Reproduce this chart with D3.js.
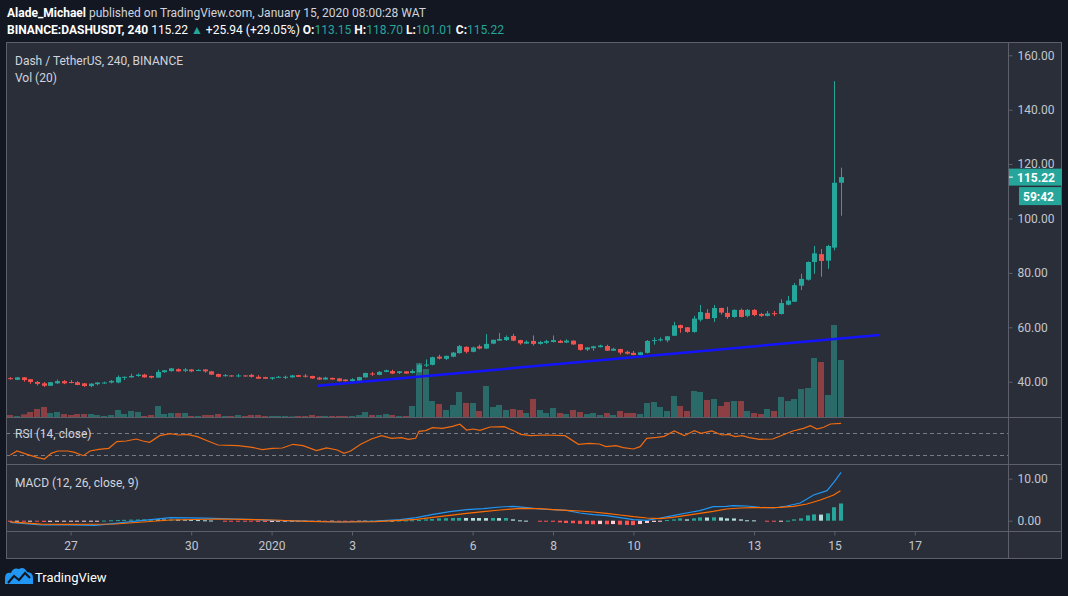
<!DOCTYPE html>
<html><head><meta charset="utf-8">
<script src="https://cdn.jsdelivr.net/npm/d3@7"></script>
<style>
html,body{margin:0;padding:0;background:#131722;overflow:hidden;}
svg{display:block;}
text{font-family:Roboto,"Noto Sans",sans-serif;}
</style></head><body>
<svg id="c" width="1068" height="596"></svg>
<script>
// ---------------- DATA ----------------
const candleStart = "2019-12-25T12:00:00Z";   // first visible 240-min bar
const intervalHours = 4;
const opens  = [41.3,40.7,41.6,40.9,39.9,39.4,38.5,39.4,40.2,39.9,39.8,39.4,38.4,39.1,39.5,39.7,39.7,41.5,41.6,42.1,
  42.6,42.1,41.5,43.5,43.9,44.6,44.0,44.5,44.1,44.5,43.8,42.8,42.2,42.3,42.1,42.3,42.5,41.8,41.7,41.1,
  41.6,41.6,41.6,42.4,42.2,42.1,41.5,40.8,41.4,41.2,40.8,40.2,40.4,41.6,43.0,42.5,43.6,43.9,43.2,43.8,
  43.2,43.5,46.0,46.2,49.2,48.4,49.2,50.5,52.8,51.0,53.0,52.2,54.0,55.1,55.3,56.8,55.3,54.0,55.0,53.9,
  54.3,54.6,55.0,54.4,55.1,53.8,51.8,52.3,52.7,53.1,51.4,52.0,51.0,50.6,49.8,50.6,55.0,55.2,55.2,56.9,
  60.8,60.0,58.3,62.8,65.3,63.4,67.1,65.3,63.8,66.4,64.2,66.4,64.9,64.2,65.2,64.9,68.3,69.4,75.3,77.5,
  84.0,86.9,84.5,89.3,113.15];
const highs  = [41.7,41.7,41.7,41.0,40.3,39.9,39.9,40.8,40.6,40.6,40.2,39.5,39.4,39.8,40.0,40.6,42.3,41.9,42.9,43.0,
  42.9,42.2,44.4,44.3,45.0,44.9,45.0,44.6,44.6,44.6,44.0,43.0,42.8,42.4,42.9,42.4,42.9,42.4,41.8,41.7,
  42.1,42.2,42.5,42.5,42.8,42.2,41.8,41.8,41.5,41.4,40.9,41.3,41.8,43.3,43.6,43.9,44.4,44.4,43.9,43.9,
  44.5,46.7,48.2,49.2,49.9,49.6,50.9,53.5,53.0,52.9,53.6,57.5,55.5,57.9,57.0,57.6,55.4,55.2,57.0,55.0,
  55.4,57.0,55.4,55.6,55.2,53.9,52.7,53.2,53.6,53.6,52.5,52.1,51.4,51.3,51.0,55.3,56.3,56.3,56.8,62.0,
  61.0,60.1,64.2,68.2,66.7,68.2,67.2,67.5,66.6,66.9,66.7,66.7,65.3,66.0,66.0,70.3,71.5,76.3,79.7,84.2,
  89.9,88.8,90.3,150.5,118.70];
const lows   = [40.8,40.6,40.0,39.2,38.6,38.1,38.5,39.2,39.1,39.4,38.7,38.1,38.0,38.7,39.3,39.4,39.4,40.6,41.5,41.8,
  41.5,41.2,41.4,43.3,43.7,43.7,43.5,43.5,43.9,43.3,42.5,41.6,41.9,41.8,41.6,41.8,41.5,41.0,41.0,40.7,
  41.4,41.0,41.5,41.7,41.5,41.1,40.7,40.7,40.7,40.1,40.1,40.1,40.3,41.5,42.2,42.4,43.5,42.8,42.8,42.9,
  43.0,43.4,45.4,46.0,48.2,48.0,49.0,50.3,50.4,50.8,51.9,52.0,53.8,55.0,55.0,54.9,53.6,53.9,53.3,53.6,
  53.9,54.4,54.2,54.2,53.5,51.4,51.3,51.4,52.6,51.3,51.3,50.0,50.0,49.7,49.7,50.4,53.6,54.8,54.5,56.8,
  58.0,58.0,58.0,62.1,63.0,62.0,64.7,63.1,63.5,63.6,63.7,64.1,63.8,64.0,64.1,64.7,68.1,69.3,73.7,77.2,
  79.7,78.6,81.5,88.3,101.01];
const closes = [41.1,41.6,40.6,39.9,39.2,38.5,39.8,40.2,39.4,39.6,38.8,38.4,39.3,39.7,39.7,40.3,41.7,41.8,42.1,42.6,
  41.6,41.5,43.6,44.2,44.9,43.8,44.5,43.8,44.3,43.8,42.6,41.8,42.4,42.1,42.3,42.1,41.8,41.1,41.1,41.6,
  41.8,41.8,42.3,41.8,42.0,41.2,40.8,41.5,40.8,40.2,40.2,40.9,41.7,43.2,42.8,43.6,44.2,43.0,43.8,43.0,
  43.9,46.2,46.3,49.0,48.5,49.5,50.7,53.1,51.0,52.6,52.2,53.9,55.4,55.7,56.4,55.1,54.1,54.7,53.9,54.6,
  54.9,55.3,54.3,55.1,53.7,51.7,52.6,53.0,53.3,51.4,52.1,50.7,50.3,49.8,50.8,55.0,55.3,55.6,56.7,60.7,
  59.7,58.3,63.2,65.6,63.1,67.1,65.4,63.8,66.4,63.8,66.4,64.5,64.2,65.1,65.0,68.9,69.8,75.5,77.8,84.0,
  87.2,84.4,89.9,113.15,115.22];
// volume (thousand DASH)
const volumes = [2,1,2.7,5,8,10,4,5,3,2,3,3,3,2,1,2,7,3,6,5,
  1,2,11,3,4,4,4,1,1,2,2,3,1,1,2,1,2,2,1,1,
  1,1,0.6,1,1,2,1,1,1,1,1,1,2,5,2,2,3,2,1,1,
  11,54,48,16,13,7,12,25,14,14,6,31,10,12,7,8,7,4,18,7,
  4,9,4,3,7,5,3,4,2,4,2,6,4,4,3,14,15,10,6,21,
  11,6,26,25,17,18,11,15,16,16,6,4,3,8,6,20,16,18,28,29,
  59,55,22,92,57];
// RSI(14) readings: [bar index, value]
const rsiPoints = [[0,30.5],[1,37.8],[2.5,31.8],[4.1,25.7],[5.1,23.3],[6.1,33.6],[7.1,37.8],[8.6,37.8],[9.6,35.4],[10.9,29.3],
  [11.9,37.8],[13.2,40.9],[14.7,42.7],[15.9,54.8],[17.3,56.0],[18.8,59.6],[19.8,56.0],[20.8,53.6],[22.3,65.7],[23.9,69.3],
  [25.1,66.9],[26.4,68.1],[27.9,63.9],[29.5,56.0],[31.0,48.7],[34.0,47.5],[36.1,44.5],[37.6,40.2],[39.1,42.7],[40.6,43.3],
  [42.2,50.0],[43.7,47.5],[45.7,38.4],[47.2,43.3],[48.8,39.6],[49.8,33.6],[50.8,37.8],[52.3,50.0],[53.9,59.6],[55.4,65.7],
  [56.9,60.9],[58.4,62.1],[59.4,59.1],[60.5,60.9],[61.0,73.6],[62.0,74.8],[63.0,80.2],[64.5,79.0],[66.0,82.7],[67.1,86.4],
  [68.1,76.0],[69.1,77.8],[70.1,75.5],[71.6,81.5],[73.7,82.1],[75.2,74.2],[76.2,68.1],[77.7,65.7],[79.8,66.9],[82.8,65.7],
  [84.8,50.0],[86.4,51.8],[87.9,50.6],[88.9,45.7],[90.4,47.5],[91.5,43.9],[93.0,41.5],[94.0,45.7],[95.0,60.9],[96.5,62.7],
  [97.6,64.5],[99.1,74.2],[100.6,65.7],[102.1,74.8],[103.1,70.0],[104.7,74.2],[106.2,66.9],[107.2,68.1],[108.2,63.9],[109.2,65.7],
  [110.3,62.1],[111.8,59.1],[113.8,59.6],[115.3,66.9],[116.8,74.2],[118.4,79.0],[119.4,83.9],[120.4,77.8],[121.4,81.0],[122.4,86.9],
  [124.0,88.1]];
// MACD(12,26,9) readings: [bar index, value]
const macdPoints = [[0,-0.39],[4.6,-1.02],[8.6,-1.02],[12.7,-1.10],[15.7,-0.63],[18.8,-0.08],[23.9,0.71],[29.0,0.63],[34.0,0.40],[39.1,0.08],
  [44.2,-0.08],[49.3,-0.31],[54.4,-0.08],[58.2,0.25],[60.6,0.72],[63.1,1.52],[65.6,2.15],[68.1,2.63],[70.6,2.86],[73.1,3.26],
  [75.1,3.42],[77.1,3.10],[79.0,2.79],[81.0,2.63],[83.0,2.47],[85.0,1.83],[87.0,1.44],[89.0,1.20],[91.0,0.72],[93.0,0.25],
  [95.0,0.09],[97.0,0.64],[98.9,1.20],[100.9,1.83],[102.9,2.39],[104.9,3.34],[106.9,3.42],[107.9,3.58],[109.9,3.50],[111.9,3.18],
  [113.9,3.02],[115.9,3.50],[117.9,4.21],[119.9,6.12],[121.9,7.15],[123.0,9.3],[124.0,11.5]];
const signalPoints = [[0,-0.30],[4.6,-0.80],[8.6,-0.87],[15.7,-0.79],[23.9,0.17],[31.0,0.40],[39.1,0.17],[44.2,-0.15],[49.3,-0.31],[54.4,-0.24],
  [58.2,0.09],[60.6,0.33],[63.1,0.80],[65.6,1.28],[68.1,1.75],[70.6,2.15],[73.1,2.55],[76.1,2.94],[79.0,2.86],[81.0,2.63],
  [83.0,2.47],[85.0,2.31],[87.0,2.07],[89.0,1.75],[91.0,1.36],[93.0,0.96],[95.0,0.64],[97.0,0.48],[98.9,0.80],[100.9,1.28],
  [102.9,1.75],[104.9,2.23],[106.9,2.79],[108.9,3.02],[110.9,3.10],[112.9,3.10],[114.9,3.18],[116.9,3.42],[118.9,3.97],[120.9,4.92],
  [122.9,6.12],[123.9,7.15]];
const histValues = [-0.2,-0.18,-0.2,-0.18,-0.22,-0.3,-0.28,-0.26,-0.24,-0.22,-0.2,-0.15,-0.1,-0.05,0.02,0.1,0.15,0.2,0.25,0.28,
  0.3,0.32,0.3,0.28,0.29,0.26,0.24,0.2,0.15,0.1,0.05,0,-0.1,-0.15,-0.18,-0.2,-0.22,-0.28,-0.32,-0.3,
  -0.25,-0.2,-0.12,-0.05,-0.02,-0.03,-0.02,-0.03,-0.02,-0.05,-0.1,-0.15,-0.12,-0.05,0.02,0.03,0.05,0.04,0.06,0.08,
  0.1,0.16,0.32,0.4,0.56,0.6,0.63,0.66,0.65,0.64,0.63,0.62,0.64,0.62,0.64,0.32,0.08,0.02,0,-0.2,
  -0.22,-0.25,-0.4,-0.55,-0.6,-0.75,-0.8,-0.85,-0.8,-0.85,-0.8,-0.95,-1.0,-1.05,-0.8,-0.55,-0.3,-0.05,0.16,0.32,
  0.56,0.32,0.56,0.78,0.76,0.8,0.78,0.56,0.54,0.32,0.1,0.08,0,-0.2,-0.22,-0.02,0.02,0.32,0.56,1.27,
  1.5,1.45,1.75,3.2,4.1];
// trend line drawing (time, price)
const trendline = [{t:"2020-01-02T03:40:00Z", p:38.5},{t:"2020-01-16T03:00:00Z", p:57.2}];
const priceTicks = [40,60,80,100,120,140,160];
const macdTicks = [0,10];
const rsiLevels = [70,30];
const dateTicks = ["2019-12-27","2019-12-30","2020-01-01","2020-01-03","2020-01-06","2020-01-08","2020-01-10","2020-01-13","2020-01-15","2020-01-17"];
const dateLabels = ["27","30","2020","3","6","8","10","13","15","17"];
const lastPrice = 115.22, countdown = "59:42";

// ---------------- LAYOUT ----------------
const L=6, R=1008, RR=1062, T=42, P1=417, P2=464, P3=531, B=559;
const C = {bg:"#131722", pane:"#2a2e39", border:"#5d606b", text:"#c3c6ce", up:"#26a69a", dn:"#ef5350",
  upVol:"#2a6b69", dnVol:"#8c4044"};

const svg = d3.select("#c");
const t0 = Date.parse(candleStart);
const tOf = i => new Date(t0 + i*intervalHours*3600e3);

const x = d3.scaleUtc().domain([new Date("2019-12-27T00:00:00Z"), new Date("2020-01-17T00:00:00Z")]).range([70.6, 914.8]);
const yP = d3.scaleLinear().domain([40,160]).range([381.7,55.3]);
const yV = d3.scaleLinear().domain([0,100]).range([P1,P1-100]);
const yR = d3.scaleLinear().domain([30,70]).range([455.3,433.3]);
const yM = d3.scaleLinear().domain([0,10]).range([520.7,478.7]);

svg.append("rect").attr("width",1068).attr("height",596).attr("fill",C.bg);
svg.append("rect").attr("x",L).attr("y",T).attr("width",RR-L).attr("height",B-T).attr("fill",C.pane);

const defs = svg.append("defs");
function clip(id,y0,y1){defs.append("clipPath").attr("id",id).append("rect").attr("x",L).attr("y",y0).attr("width",R-L).attr("height",y1-y0);}
clip("cp",T,P1); clip("cr",P1,P2); clip("cm",P2,P3);

// ---- price pane ----
const gP = svg.append("g").attr("clip-path","url(#cp)");
const idx = d3.range(opens.length);
const cx = i => Math.round(x(tOf(i)));
gP.append("g").selectAll("rect").data(idx).join("rect")
  .attr("x",i=>cx(i)-3).attr("width",6)
  .attr("y",i=>yV(volumes[i])).attr("height",i=>P1-yV(volumes[i]))
  .attr("fill",i=>closes[i]>=opens[i]?C.upVol:C.dnVol);
const gc = gP.append("g");
gc.selectAll("line").data(idx).join("line")
  .attr("x1",i=>cx(i)+0.5).attr("x2",i=>cx(i)+0.5)
  .attr("y1",i=>yP(highs[i])).attr("y2",i=>yP(lows[i]))
  .attr("stroke",i=>closes[i]>=opens[i]?C.up:C.dn).attr("stroke-width",1);
gc.selectAll("rect").data(idx).join("rect")
  .attr("x",i=>cx(i)-2).attr("width",5)
  .attr("y",i=>yP(Math.max(opens[i],closes[i])))
  .attr("height",i=>Math.max(1,Math.abs(yP(opens[i])-yP(closes[i]))))
  .attr("fill",i=>closes[i]>=opens[i]?C.up:C.dn);
gP.append("line")
  .attr("x1",x(new Date(trendline[0].t))).attr("y1",yP(trendline[0].p))
  .attr("x2",x(new Date(trendline[1].t))).attr("y2",yP(trendline[1].p))
  .attr("stroke","#1414ff").attr("stroke-width",2.5);

// ---- RSI pane ----
const gR = svg.append("g").attr("clip-path","url(#cr)");
gR.selectAll("line.lv").data(rsiLevels).join("line").attr("class","lv")
  .attr("x1",L).attr("x2",R).attr("y1",d=>Math.round(yR(d))+0.5).attr("y2",d=>Math.round(yR(d))+0.5)
  .attr("stroke","#787b86").attr("stroke-dasharray","4,3");
gR.append("path").datum(rsiPoints)
  .attr("d",d3.line().x(d=>x(tOf(d[0]))).y(d=>yR(d[1])))
  .attr("fill","none").attr("stroke","#f06a10").attr("stroke-width",1.2);

// ---- MACD pane ----
const gM = svg.append("g").attr("clip-path","url(#cm)");
gM.append("g").selectAll("rect").data(idx.filter(i=>Math.abs(histValues[i])>0.005)).join("rect")
  .attr("x",i=>cx(i)-2).attr("width",4)
  .attr("y",i=>Math.min(yM(histValues[i]),yM(0)))
  .attr("height",i=>Math.max(1,Math.abs(yM(histValues[i])-yM(0))))
  .attr("fill",i=>{const v=histValues[i], p=i>0?histValues[i-1]:0;
     return v>=0 ? (v>=p?"#26a69a":"#b2dfdb") : (v<p?"#ff5252":"#ffcdd2");});
const lineM = d3.line().x(d=>x(tOf(d[0]))).y(d=>yM(d[1]));
gM.append("path").datum(macdPoints).attr("d",lineM).attr("fill","none").attr("stroke","#2196f3").attr("stroke-width",1.2);
gM.append("path").datum(signalPoints).attr("d",lineM).attr("fill","none").attr("stroke","#ff6d00").attr("stroke-width",1.2);

// ---- frame / separators ----
const fr = svg.append("g").attr("stroke",C.border).attr("fill","none");
fr.append("rect").attr("x",L+0.5).attr("y",T+0.5).attr("width",RR-L-1).attr("height",B-T-1);
[P1,P2,P3].forEach(y=>fr.append("line").attr("x1",L).attr("x2",RR).attr("y1",y+0.5).attr("y2",y+0.5));
fr.append("line").attr("x1",R+0.5).attr("x2",R+0.5).attr("y1",T).attr("y2",B);

// ---- axes ----
function styleAxis(g){g.select(".domain").remove();
  g.selectAll("line").attr("stroke",C.border);
  g.selectAll("text").attr("fill",C.text).style("font-size","12px").style("font-family","Roboto,'Noto Sans',sans-serif");}
svg.append("g").attr("transform",`translate(${R+0.5},0)`)
  .call(d3.axisRight(yP).tickValues(priceTicks).tickFormat(d3.format(".2f")).tickSize(4).tickPadding(5)).call(styleAxis);
svg.append("g").attr("transform",`translate(${R+0.5},0)`)
  .call(d3.axisRight(yM).tickValues(macdTicks).tickFormat(d3.format(".2f")).tickSize(4).tickPadding(5)).call(styleAxis);
svg.append("g").attr("transform",`translate(0,${P3+0.5})`)
  .call(d3.axisBottom(x).tickValues(dateTicks.map(d=>new Date(d+"T00:00:00Z"))).tickFormat((d,i)=>dateLabels[i]).tickSize(4).tickPadding(6)).call(styleAxis);

// last price label + countdown
const ly = yP(lastPrice);
svg.append("rect").attr("x",R+1).attr("y",ly-8.5).attr("width",RR-R-1).attr("height",17).attr("fill",C.up);
svg.append("line").attr("x1",R+1).attr("x2",R+5).attr("y1",ly).attr("y2",ly).attr("stroke","#fff");
svg.append("text").attr("x",1017).attr("y",ly+4.5).attr("fill","#fff").style("font-size","12px").style("font-weight","bold").text(d3.format(".2f")(lastPrice));
svg.append("rect").attr("x",1019).attr("y",ly+10).attr("width",42).attr("height",18).attr("fill",C.up);
svg.append("text").attr("x",1023).attr("y",ly+23.5).attr("fill","#fff").style("font-size","12px").style("font-weight","bold").text(countdown);

// ---- legends ----
function txt(xp,yp,s,size,fill,weight){return svg.append("text").attr("x",xp).attr("y",yp).attr("fill",fill).style("font-size",size+"px").style("font-weight",weight||"normal").text(s);}
txt(15,65,"Dash / TetherUS, 240, BINANCE",12,"#d1d4dc");
txt(15,82,"Vol (20)",12,"#d1d4dc");
txt(15,438,"RSI (14, close)",12,"#d1d4dc");
txt(15,487,"MACD (12, 26, close, 9)",12,"#d1d4dc");

// ---- header ----
const h1 = svg.append("text").attr("x",7).attr("y",17).attr("fill","#d1d4dc").style("font-size","12px");
h1.append("tspan").style("font-weight","bold").attr("fill","#ffffff").text("Alade_Michael");
h1.append("tspan").text(" published on TradingView.com, January 15, 2020 08:00:28 WAT");
const h2 = svg.append("text").attr("x",7).attr("y",34).attr("fill","#ffffff").style("font-size","12px");
h2.append("tspan").style("font-weight","bold").text("BINANCE:DASHUSDT, 240");
h2.append("tspan").text("  115.22 ");
h2.append("tspan").attr("fill",C.up).text("▲");
h2.append("tspan").text(" +25.94 (+29.05%) ");
[["O:","113.15"],["H:","118.70"],["L:","101.01"],["C:","115.22"]].forEach(([k,v])=>{
  h2.append("tspan").style("font-weight","bold").text(k);
  h2.append("tspan").attr("fill",C.up).text(v+" ");
});

// ---- logo ----
const lg = svg.append("g");
lg.append("path").attr("d","M5,584 L5,578 Q5,572 11,573 Q13,567 19,569 Q24,566 27,572 Q33,572 33,578 L33,584 Z").attr("fill","#2196f3");
lg.append("path").attr("d","M8,583 L14,576 L19,580 L25,573 L30,578").attr("fill","none").attr("stroke","#131722").attr("stroke-width",2);
txt(35,582,"TradingView",13,"#ffffff");
</script>
</body></html>
